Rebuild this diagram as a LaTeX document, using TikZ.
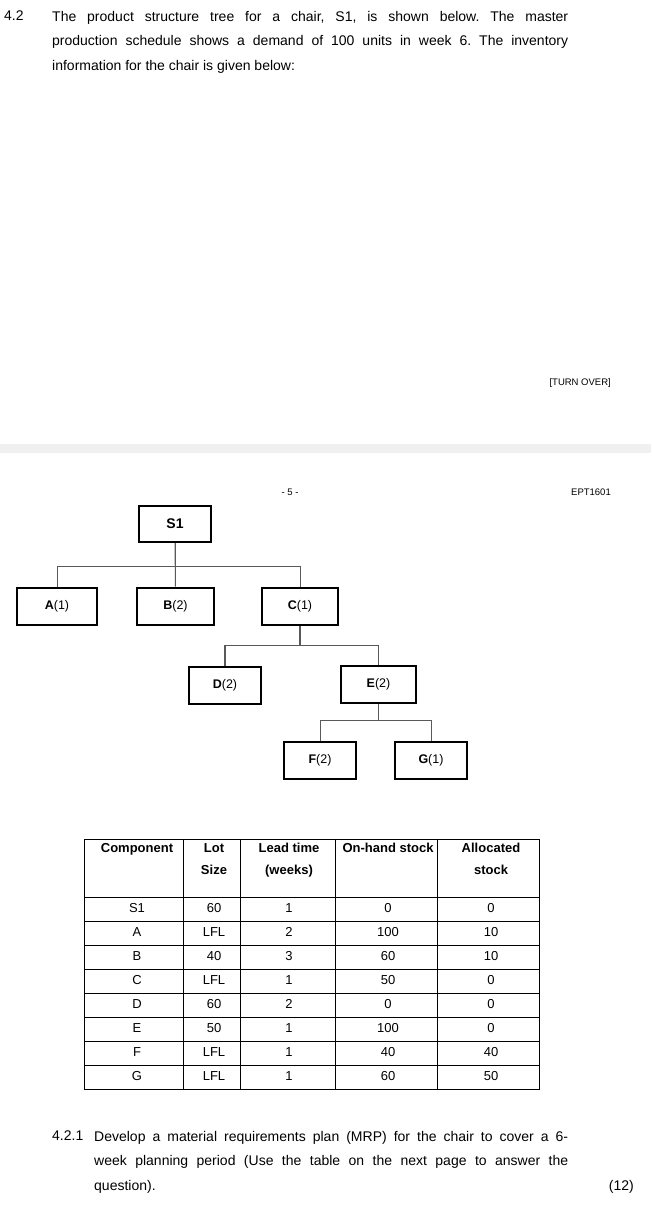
\documentclass[tikz,border=0pt]{standalone}
\usepackage{fontspec}
\setmainfont{Liberation Sans}
\frenchspacing
\begin{document}
\begin{tikzpicture}[x=1pt,y=-1pt,
  box/.style={draw,line width=2pt,inner sep=0pt,font=\fontsize{12.5}{14}\selectfont\bfseries},
  link/.style={draw=gray!70!black,line width=1pt},
  para/.style={anchor=north west,inner sep=0pt,align=justify,font=\fontsize{14}{24.5}\selectfont\frenchspacing},
  small/.style={inner sep=0pt,font=\fontsize{9.5}{11}\selectfont},
  cell/.style={inner sep=0pt,font=\fontsize{13}{15}\selectfont},
  hcell/.style={inner sep=0pt,align=center,font=\fontsize{13}{22}\selectfont\bfseries}]
\useasboundingbox[fill=white] (0,0) rectangle (651,1207);
\fill[gray!12] (0,444) rectangle (651,453);
% header text
\node[para] (n42) at (4,11) {4.2};
\node[para,text width=516pt] (intro) at (52,11) {The product structure tree for a chair, S1, is shown below. The master\linebreak production schedule shows a demand of 100 units in week 6. The inventory\linebreak information for the chair is given below:};
\node[small,anchor=east] (turn) at (611,383) {[TURN OVER]};
\node[small] (pg) at (290,492) {- 5 -};
\node[small,anchor=east] (ept) at (611,492) {EPT1601};
% tree
\node[box,minimum width=72pt,minimum height=36pt,font=\fontsize{14}{16}\selectfont\bfseries] (S1) at (175,524) {S1};
\node[box,minimum width=80pt,minimum height=37pt] (A) at (57,606) {A{\mdseries(1)}};
\node[box,minimum width=77pt,minimum height=37pt] (B) at (175.5,606) {B{\mdseries(2)}};
\node[box,minimum width=76pt,minimum height=37pt] (C) at (300,606) {C{\mdseries(1)}};
\node[box,minimum width=72pt,minimum height=37pt] (D) at (225,685) {D{\mdseries(2)}};
\node[box,minimum width=75pt,minimum height=37pt] (E) at (378.5,684.5) {E{\mdseries(2)}};
\node[box,minimum width=72pt,minimum height=37pt] (F) at (320,760) {F{\mdseries(2)}};
\node[box,minimum width=72pt,minimum height=37pt] (G) at (431,760) {G{\mdseries(1)}};
\draw[link] (S1.south) -- ++(0,23) -| (A.north);
\draw[link] (S1.south) -- (B.north);
\draw[link] (S1.south) -- ++(0,23) -| (C.north);
\draw[link,line width=1.6pt] (C.south) -- ++(0,20) -| (D.north);
\draw[link] (C.south) -- ++(0,20) -| (E.north);
\draw[link] (E.south) -- ++(0,16) -| (F.north);
\draw[link] (E.south) -- ++(0,16) -| (G.north);
% table
\draw[line width=0.8pt] (84,839) rectangle (539,1089);
\foreach \x in {183,240,335,437} \draw[line width=0.8pt] (\x,839) -- (\x,1089);
\foreach \y in {897,921,945,969,993,1017,1041,1065} \draw[line width=0.8pt] (84,\y) -- (539,\y);
\node[hcell,anchor=north] (h1) at (137,843) {Component};
\node[hcell,anchor=north] (h2) at (214,843) {Lot\\Size};
\node[hcell,anchor=north] (h3) at (289,843) {Lead time\\(weeks)};
\node[hcell,anchor=north] (h4) at (388,843) {On-hand stock};
\node[hcell,anchor=north] (h5) at (491,843) {Allocated\\stock};
\foreach \a/\b/\c/\d/\e [count=\i from 0] in {S1/60/1/0/0,A/LFL/2/100/10,B/40/3/60/10,C/LFL/1/50/0,D/60/2/0/0,E/50/1/100/0,F/LFL/1/40/40,G/LFL/1/60/50}{
  \node[cell] (r\i a) at (137,908+24*\i) {\a};
  \node[cell] (r\i b) at (214,908+24*\i) {\b};
  \node[cell] (r\i c) at (289,908+24*\i) {\c};
  \node[cell] (r\i d) at (388,908+24*\i) {\d};
  \node[cell] (r\i e) at (491,908+24*\i) {\e};
}
% question
\node[para] (q421) at (52,1131) {4.2.1};
\node[para,text width=474pt] (qtext) at (94,1131) {Develop a material requirements plan (MRP) for the chair to cover a 6-\linebreak week planning period (Use the table on the next page to answer the\linebreak question).};
\node[para,anchor=north east] (marks) at (634,1180) {(12)};
\end{tikzpicture}
\end{document}
